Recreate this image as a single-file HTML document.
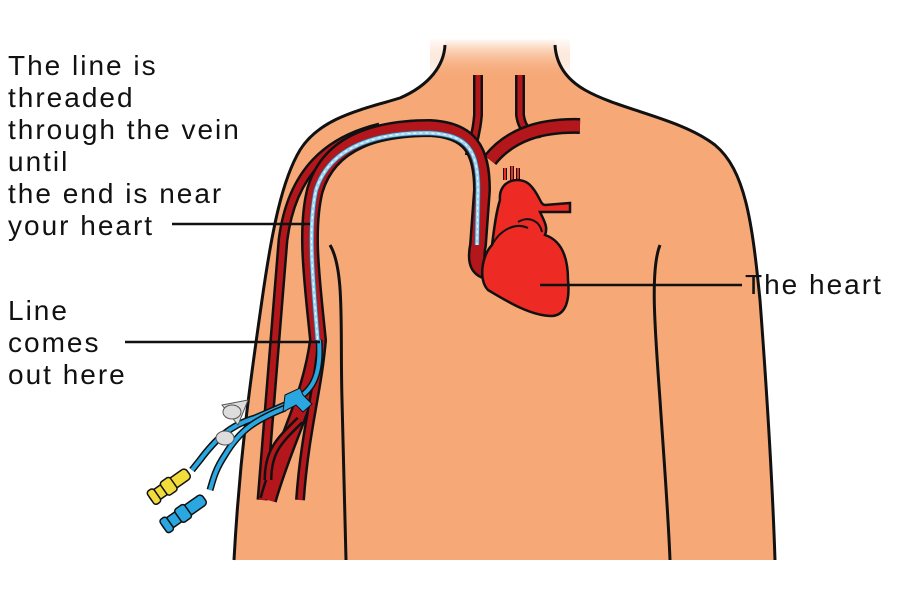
<!DOCTYPE html>
<html><head><style>
html,body{margin:0;padding:0;background:#fff;}
svg{display:block;}
text{font-family:"Liberation Sans",sans-serif;font-size:28px;letter-spacing:2px;fill:#111;}
</style></head><body>
<svg width="900" height="604" viewBox="0 0 900 604" xmlns="http://www.w3.org/2000/svg">
<defs>
<linearGradient id="neck" x1="0" y1="0" x2="0" y2="1">
<stop offset="0" stop-color="#fff"/><stop offset="1" stop-color="#f6a977" stop-opacity="0"/>
</linearGradient>
</defs>
<path d="M445,40 C444,65 430,85 400,98 C360,110 320,118 300,150 C282,180 272,230 262,300 C252,370 240,450 234,560 L775,560 C772,470 766,380 760,300 C752,220 745,170 715,145 C680,118 620,110 585,90 C562,78 556,60 555,40 Z" fill="#f6a977"/>
<rect x="430" y="38" width="140" height="40" fill="url(#neck)"/>
<path d="M445,45 C444,65 430,85 400,98 C360,110 320,118 300,150 C282,180 272,230 262,300 C252,370 240,450 234,560" fill="none" stroke="#111" stroke-width="3"/>
<path d="M555,45 C556,62 564,78 585,90 C620,110 680,118 715,145 C745,170 752,220 760,300 C766,380 772,470 775,560" fill="none" stroke="#111" stroke-width="3"/>
<path d="M330,245 C345,270 340,330 342,400 C343,460 345,510 346,560" fill="none" stroke="#111" stroke-width="3"/>
<path d="M660,245 C650,270 655,330 660,400 C664,460 668,510 670,560" fill="none" stroke="#111" stroke-width="3"/>
<path d="M478,75 L478,115 C476,140 470,150 470,155" fill="none" stroke="#111" stroke-width="10"/>
<path d="M478,75 L478,115 C476,140 470,150 470,155" fill="none" stroke="#b3161b" stroke-width="5"/>
<path d="M520,75 L520,115 C522,130 530,135 540,133" fill="none" stroke="#111" stroke-width="10"/>
<path d="M520,75 L520,115 C522,130 530,135 540,133" fill="none" stroke="#b3161b" stroke-width="5"/>
<path d="M490,160 C510,135 540,125 580,126" fill="none" stroke="#111" stroke-width="16"/>
<path d="M490,160 C510,135 540,125 580,126" fill="none" stroke="#b3161b" stroke-width="11"/>
<path d="M262,500 C268,420 275,340 283,240 C292,170 330,140 380,128" fill="none" stroke="#111" stroke-width="11"/>
<path d="M262,500 C268,420 275,340 283,240 C292,170 330,140 380,128" fill="none" stroke="#b3161b" stroke-width="6"/>
<path d="M268,500 C285,440 310,400 318,340 C312,280 305,230 315,190 C330,140 380,128 430,128 C470,130 482,150 482,190 L478,245 C474,265 480,270 490,272" fill="none" stroke="#111" stroke-width="18"/>
<path d="M268,500 C285,440 310,400 318,340 C312,280 305,230 315,190 C330,140 380,128 430,128 C470,130 482,150 482,190 L478,245 C474,265 480,270 490,272" fill="none" stroke="#b3161b" stroke-width="13"/>
<path d="M300,500 C305,430 318,390 322,340" fill="none" stroke="#111" stroke-width="10"/>
<path d="M300,500 C305,430 318,390 322,340" fill="none" stroke="#b3161b" stroke-width="5"/>
<path d="M268,480 C268,450 280,440 300,420" fill="none" stroke="#111" stroke-width="9"/>
<path d="M268,480 C268,450 280,440 300,420" fill="none" stroke="#b3161b" stroke-width="4"/>
<path d="M318,345 C314,290 307,230 316,190 C330,145 380,132 430,133 C468,135 478,150 478,190 L477,245" fill="none" stroke="#2a6f9a" stroke-width="5"/>
<path d="M318,345 C314,290 307,230 316,190 C330,145 380,132 430,133 C468,135 478,150 478,190 L477,245" fill="none" stroke="#9fd3ef" stroke-width="3.5"/>
<path d="M318,345 C314,290 307,230 316,190 C330,145 380,132 430,133 C468,135 478,150 478,190 L477,245" fill="none" stroke="#fff" stroke-width="1" stroke-dasharray="3 3"/>
<path d="M319,340 C322,380 310,395 285,405 L255,418 C230,425 215,440 200,460 L192,470" fill="none" stroke="#111" stroke-width="7"/>
<path d="M319,340 C322,380 310,395 285,405 L255,418 C230,425 215,440 200,460 L192,470" fill="none" stroke="#2aa7e1" stroke-width="4"/>
<path d="M285,408 C255,420 240,430 225,455 C215,470 213,480 210,490" fill="none" stroke="#111" stroke-width="7"/>
<path d="M285,408 C255,420 240,430 225,455 C215,470 213,480 210,490" fill="none" stroke="#2aa7e1" stroke-width="4"/>
<path d="M285,395 L300,388 L303,395 L312,404 L303,412 L296,405 L283,412 Z" fill="#2aa7e1" stroke="#111" stroke-width="1"/>
<path d="M222,405 L248,400 L238,425 Z" fill="#ddd" stroke="#555"/>
<ellipse cx="232" cy="412" rx="9" ry="7" fill="#ddd" stroke="#555"/>
<ellipse cx="225" cy="438" rx="9" ry="7" fill="#ddd" stroke="#555"/>
<g stroke="#111" stroke-width="1.5">
<g transform="translate(172,484) rotate(-35)">
<rect x="-26" y="-6" width="46" height="12" rx="4" fill="#f2dc3c"/>
<rect x="-10" y="-8" width="12" height="16" rx="3" fill="#f2dc3c"/>
<rect x="-26" y="-8" width="8" height="16" rx="3" fill="#f2dc3c"/>
</g>
<g transform="translate(188,510) rotate(-35)">
<rect x="-30" y="-6" width="50" height="12" rx="4" fill="#2aa7e1"/>
<rect x="-12" y="-8" width="12" height="16" rx="3" fill="#2aa7e1"/>
<rect x="-30" y="-8" width="8" height="16" rx="3" fill="#2aa7e1"/>
</g>
</g>
<path d="M505,180 L505,168 M512,180 L512,166 M518,180 L518,168" stroke="#111" stroke-width="4"/>
<path d="M505,180 L505,168 M512,180 L512,166 M518,180 L518,168" stroke="#ee2a24" stroke-width="2"/>
<path d="M500,200 C498,180 520,175 530,185 C540,195 540,205 545,205 L570,203 L570,212 L540,212 C545,222 548,228 545,235 C560,240 568,255 568,280 C570,300 566,315 552,316 C530,316 505,300 488,290 C478,280 482,255 492,245 C494,230 496,212 500,200 Z" fill="#ee2a24" stroke="#111" stroke-width="2.5"/>
<path d="M518,222 C530,215 540,222 542,232" fill="none" stroke="#111" stroke-width="2"/>
<path d="M492,245 C500,230 515,222 528,228" fill="none" stroke="#111" stroke-width="2"/>
<g stroke="#111" stroke-width="2.5">
<line x1="172" y1="224" x2="310" y2="224"/>
<line x1="125" y1="342" x2="320" y2="342"/>
<line x1="540" y1="285" x2="742" y2="285"/>
</g>
<text x="8" y="75">The line is</text>
<text x="8" y="107">threaded</text>
<text x="8" y="139">through the vein</text>
<text x="8" y="171">until</text>
<text x="8" y="203">the end is near</text>
<text x="8" y="235">your heart</text>
<text x="8" y="320">Line</text>
<text x="8" y="352">comes</text>
<text x="8" y="384">out here</text>
<text x="745" y="294">The heart</text>
</svg>
</body></html>
